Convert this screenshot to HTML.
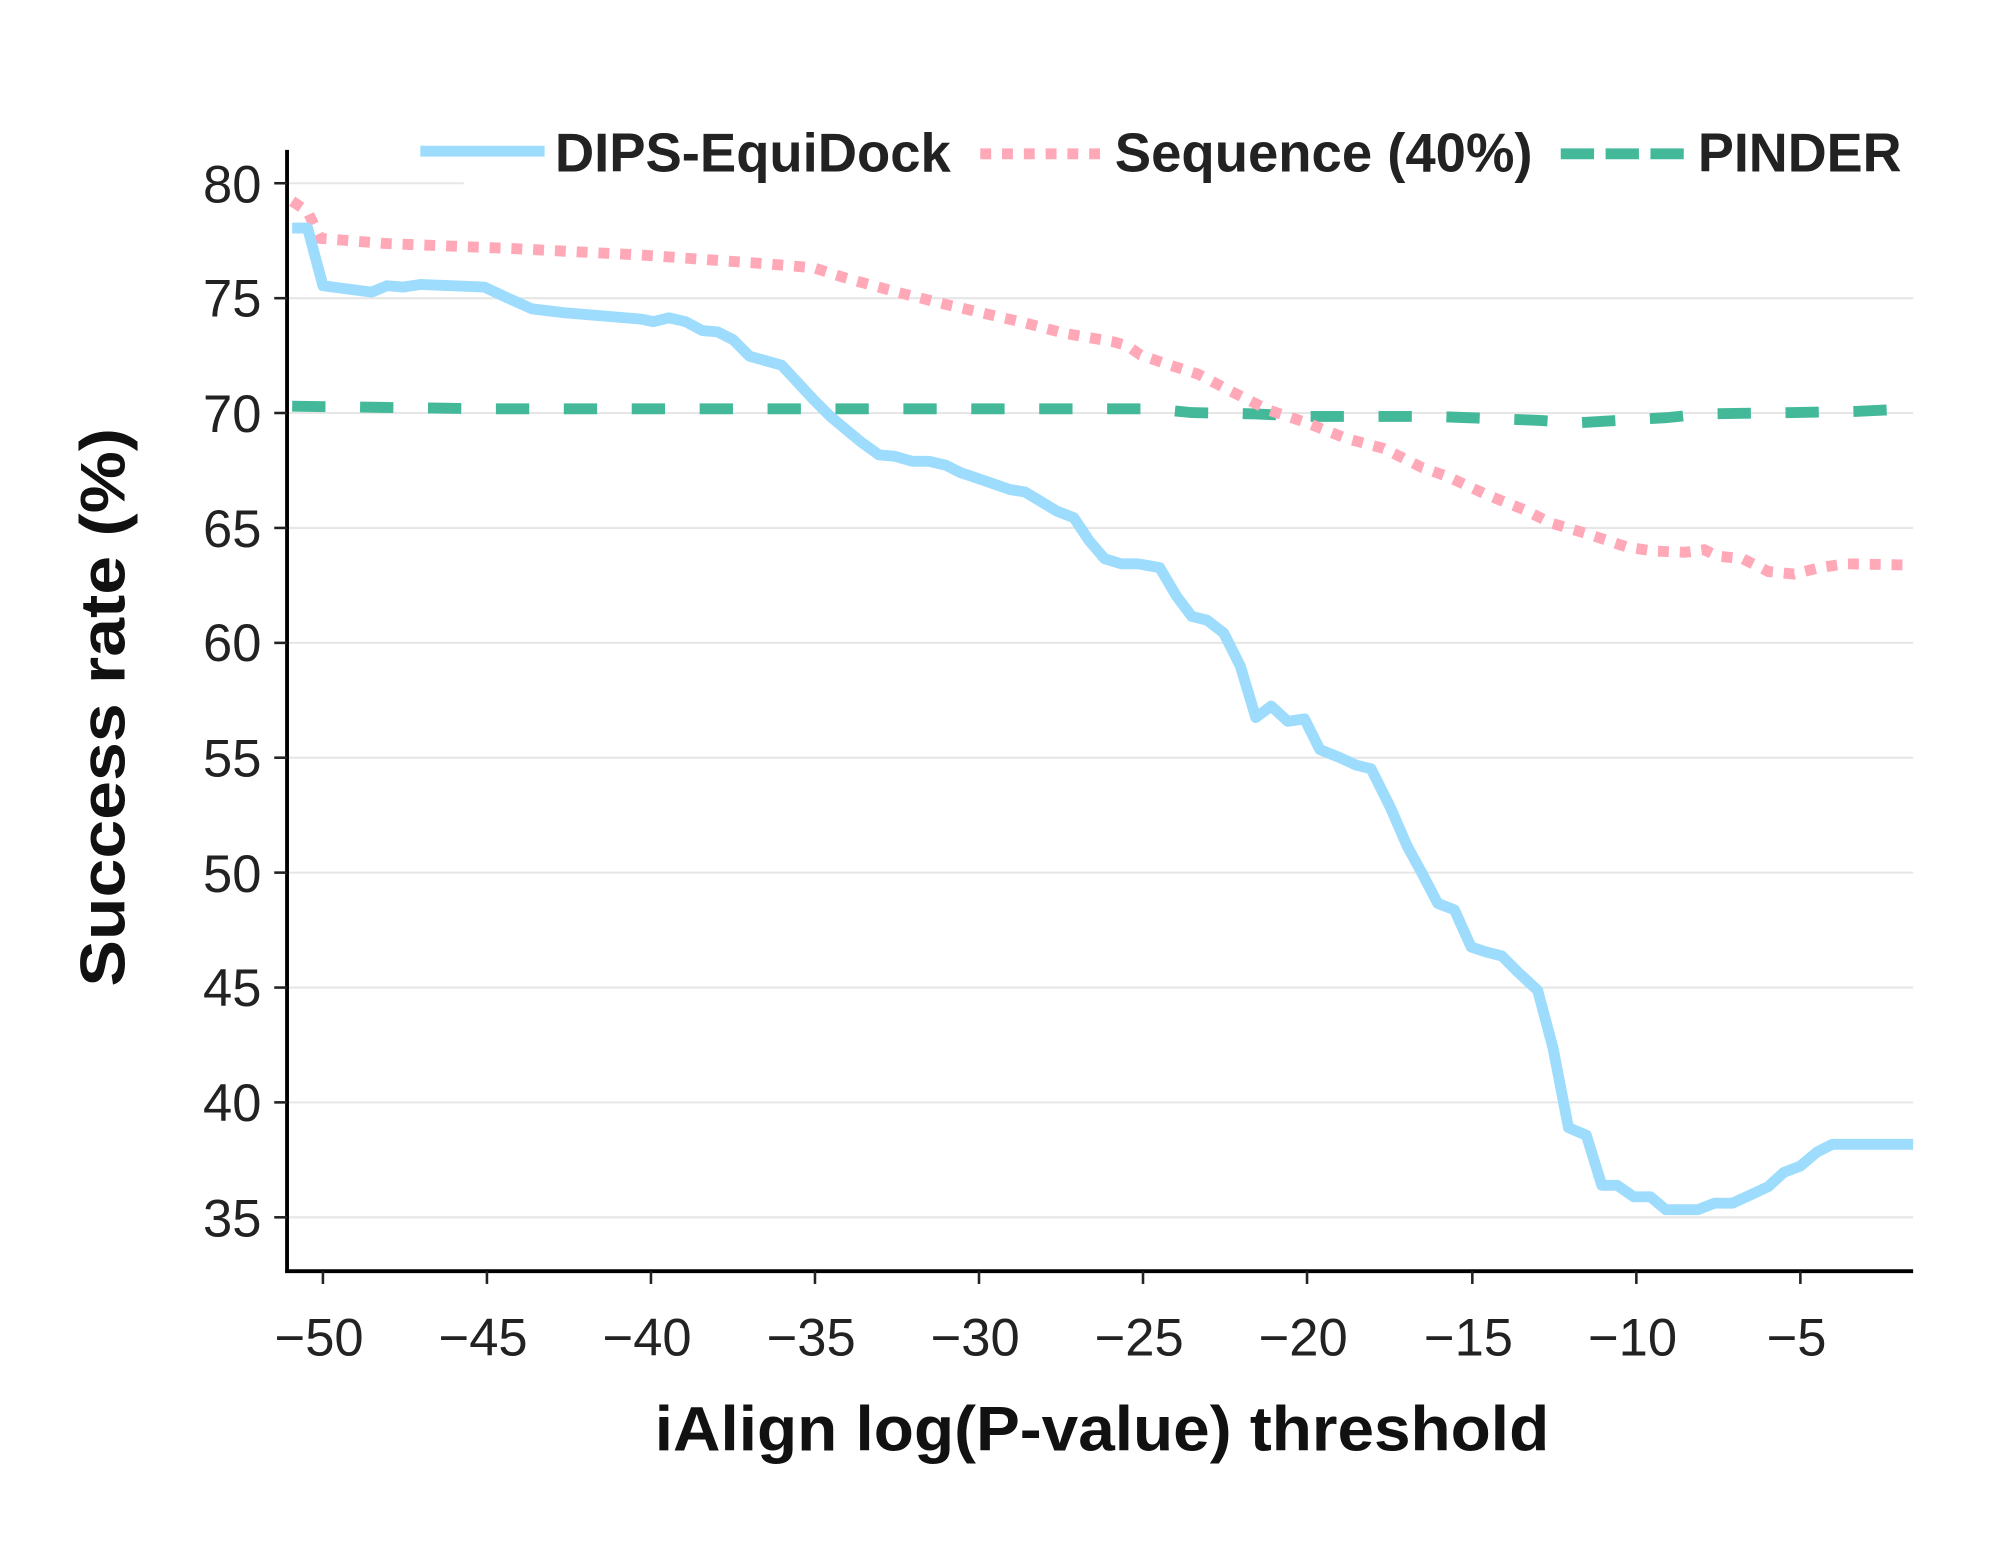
<!DOCTYPE html>
<html><head><meta charset="utf-8"><style>html,body{margin:0;padding:0;background:#fff}svg{display:block}</style></head>
<body>
<svg width="1999" height="1546" viewBox="0 0 1560 1206.5" xmlns="http://www.w3.org/2000/svg" font-family="'Liberation Sans', sans-serif">
<rect width="1560" height="1207" fill="#fff"/>
<g stroke="#e6e6e6" stroke-width="1.6">
<line x1="224" y1="143" x2="362" y2="143"/>
<line x1="224" y1="232.7" x2="1493" y2="232.7"/>
<line x1="224" y1="322.3" x2="1493" y2="322.3"/>
<line x1="224" y1="412" x2="1493" y2="412"/>
<line x1="224" y1="501.7" x2="1493" y2="501.7"/>
<line x1="224" y1="591.3" x2="1493" y2="591.3"/>
<line x1="224" y1="681" x2="1493" y2="681"/>
<line x1="224" y1="770.7" x2="1493" y2="770.7"/>
<line x1="224" y1="860.3" x2="1493" y2="860.3"/>
<line x1="224" y1="950" x2="1493" y2="950"/>
</g>
<polyline fill="none" stroke="#44b99a" stroke-width="8.5" stroke-dasharray="26 27" points="228,317 380,319 900,319 930,322 980,323 1020,325 1080,325 1120,325 1200,328 1230,330 1300,326 1330,323 1400,322 1450,321 1493,319"/>
<polyline fill="none" stroke="#ffa8b8" stroke-width="8.5" stroke-dasharray="8.5 8.5" points="228,157 240,165 250,186 300,190 400,194 500,199 600,206 635,209 660,217 700,228 740,238 770,245 800,252 830,260 870,267 880,270 890,277 910,284 935,292 960,305 990,320 1020,330 1050,342 1080,350 1110,365 1130,372 1160,386 1190,398 1210,408 1240,417 1270,427 1290,430 1315,431 1330,429 1340,434 1360,436 1380,446 1400,448 1420,443 1440,440 1493,441"/>
<polyline fill="none" stroke="#9ddcfc" stroke-width="8.5" stroke-linejoin="round" points="228,178 240,178 252,223 290,228 302,223 315,224 328,222 378,224 395,232 415,241 440,244 500,249 510,251 522,248 535,251 548,258 560,259 572,265 585,278 610,285 622,298 635,312 648,325 660,335 672,345 686,355 698,356 712,360 725,360 738,363 750,369 765,374 788,382 800,384 825,399 838,404 850,422 862,436 875,440 888,440 905,443 918,465 930,481 942,484 955,494 968,520 980,560 992,551 1005,563 1018,561 1030,585 1045,591 1058,597 1070,600 1085,630 1098,660 1110,682 1122,705 1135,710 1148,739 1160,743 1172,746 1185,759 1200,773 1212,818 1224,880 1238,886 1250,925 1262,925 1275,934 1288,934 1300,944 1325,944 1338,939 1352,939 1365,933 1380,926 1392,915 1405,910 1418,899 1430,893 1493,893"/>
<g stroke="#000" stroke-width="3" fill="none">
<line x1="224" y1="117" x2="224" y2="993"/>
<line x1="222.5" y1="992" x2="1493" y2="992"/>
</g>
<g stroke="#222" stroke-width="2">
<line x1="214" y1="143" x2="224" y2="143"/><line x1="214" y1="232.7" x2="224" y2="232.7"/><line x1="214" y1="322.3" x2="224" y2="322.3"/><line x1="214" y1="412" x2="224" y2="412"/><line x1="214" y1="501.7" x2="224" y2="501.7"/><line x1="214" y1="591.3" x2="224" y2="591.3"/><line x1="214" y1="681" x2="224" y2="681"/><line x1="214" y1="770.7" x2="224" y2="770.7"/><line x1="214" y1="860.3" x2="224" y2="860.3"/><line x1="214" y1="950" x2="224" y2="950"/>
<line x1="252" y1="992" x2="252" y2="1002"/><line x1="380" y1="992" x2="380" y2="1002"/><line x1="508" y1="992" x2="508" y2="1002"/><line x1="636" y1="992" x2="636" y2="1002"/><line x1="764" y1="992" x2="764" y2="1002"/><line x1="892" y1="992" x2="892" y2="1002"/><line x1="1020" y1="992" x2="1020" y2="1002"/><line x1="1149" y1="992" x2="1149" y2="1002"/><line x1="1277" y1="992" x2="1277" y2="1002"/><line x1="1405" y1="992" x2="1405" y2="1002"/>
</g>
<g font-size="41" fill="#222" text-anchor="end">
<text x="204" y="158">80</text><text x="204" y="247">75</text><text x="204" y="337">70</text><text x="204" y="427">65</text><text x="204" y="516">60</text><text x="204" y="606">55</text><text x="204" y="696">50</text><text x="204" y="785">45</text><text x="204" y="875">40</text><text x="204" y="965">35</text>
</g>
<g font-size="41" fill="#222" text-anchor="middle">
<text x="249" y="1058">−50</text><text x="377" y="1058">−45</text><text x="505" y="1058">−40</text><text x="633" y="1058">−35</text><text x="761" y="1058">−30</text><text x="889" y="1058">−25</text><text x="1017" y="1058">−20</text><text x="1146" y="1058">−15</text><text x="1274" y="1058">−10</text><text x="1402" y="1058">−5</text>
</g>
<text x="860" y="1132" font-size="49" font-weight="bold" fill="#111" text-anchor="middle" textLength="698" lengthAdjust="spacingAndGlyphs">iAlign log(P-value) threshold</text>
<text transform="translate(97,552) rotate(-90)" font-size="49" font-weight="bold" fill="#111" text-anchor="middle" textLength="436" lengthAdjust="spacingAndGlyphs">Success rate (%)</text>
<line x1="328" y1="118" x2="425" y2="118" stroke="#9ddcfc" stroke-width="8.5"/>
<line x1="765" y1="120" x2="862" y2="120" stroke="#ffa8b8" stroke-width="8.5" stroke-dasharray="8.5 8.5"/>
<line x1="1218" y1="120" x2="1315" y2="120" stroke="#44b99a" stroke-width="8.5" stroke-dasharray="26 9"/>
<g font-size="43" font-weight="bold" fill="#222">
<text x="433" y="134" textLength="309" lengthAdjust="spacingAndGlyphs">DIPS-EquiDock</text>
<text x="870" y="134" textLength="326" lengthAdjust="spacingAndGlyphs">Sequence (40%)</text>
<text x="1325" y="134" textLength="159" lengthAdjust="spacingAndGlyphs">PINDER</text>
</g>
</svg>
</body></html>
